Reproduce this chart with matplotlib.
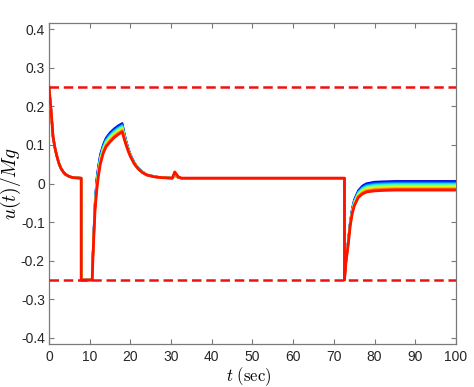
import numpy as np
import matplotlib
matplotlib.use('Agg')
import matplotlib.pyplot as plt

plt.rcParams['font.family'] = ['Liberation Sans', 'DejaVu Sans']
plt.rcParams['mathtext.fontset'] = 'cm'
plt.rcParams['axes.unicode_minus'] = False

# time grid (sec) shared by the curves
t_pts = [0, 0.5, 1.0, 1.5, 2, 2.5, 3, 3.5, 4, 5, 6, 7.9,
         7.9, 10.6,
         10.8, 11.0, 11.3, 11.7, 12.1, 12.6, 13.3, 14.0, 15.0, 16.0, 17.0, 18.0,
         18.5, 19, 19.5, 20, 21, 22, 23, 24, 26, 28, 30.3,
         30.9, 31.3, 31.8, 32.5,
         72.6, 72.6,
         73.0, 73.5, 74.0, 74.5, 75, 76, 77, 78, 80, 82, 85, 100]

# upper (blue) curve
u_blue = [0.25, 0.19, 0.12, 0.09, 0.068, 0.05, 0.038, 0.03, 0.024, 0.018, 0.015, 0.014,
          -0.25, -0.25,
          -0.18, -0.125, -0.05, 0.01, 0.043, 0.075, 0.1, 0.118, 0.132, 0.142, 0.15, 0.156,
          0.13, 0.108, 0.09, 0.075, 0.053, 0.039, 0.03, 0.023, 0.018, 0.015, 0.014,
          0.022, 0.018, 0.015, 0.014,
          0.014, -0.25,
          -0.195, -0.15, -0.1, -0.065, -0.042, -0.018, -0.006, 0.0, 0.004, 0.005, 0.006, 0.006]

# lower (red) curve
u_red = [0.25, 0.19, 0.12, 0.09, 0.068, 0.05, 0.038, 0.03, 0.024, 0.018, 0.015, 0.014,
         -0.25, -0.25,
         -0.19, -0.14, -0.07, -0.02, 0.017, 0.05, 0.078, 0.095, 0.108, 0.119, 0.127, 0.134,
         0.115, 0.098, 0.083, 0.07, 0.05, 0.037, 0.028, 0.022, 0.017, 0.015, 0.014,
         0.03, 0.024, 0.017, 0.014,
         0.014, -0.25,
         -0.2, -0.16, -0.11, -0.078, -0.058, -0.036, -0.027, -0.022, -0.019, -0.018, -0.017, -0.017]

# position of each curve inside the band (0 = blue, 1 = red)
band_pos = [0.0, 0.11, 0.22, 0.33, 0.44, 0.55, 0.66, 0.77, 0.88, 1.0]

u_max = 0.25  # saturation limits

fig = plt.figure(figsize=(4.74, 3.87), dpi=100)
ax = fig.add_axes([0.1034, 0.111, 0.8586, 0.8296])

t = np.array(t_pts)
ub = np.array(u_blue)
ur = np.array(u_red)
cols = plt.cm.jet(np.linspace(0.08, 0.89, len(band_pos)))
for i, w in enumerate(band_pos):
    u = (1 - w) * ub + w * ur
    lw = 2.0 if i == len(band_pos) - 1 else 1.6
    ax.plot(t, u, color=cols[i], lw=lw, zorder=2 + i)

ax.plot([0, 100], [u_max, u_max], color='#ee1111', lw=1.8, dashes=(3.8, 1.9), zorder=20)
ax.plot([0, 100], [-u_max, -u_max], color='#ee1111', lw=1.8, dashes=(3.8, 1.9), zorder=20)

ax.set_xlim(0, 100)
ax.set_ylim(-0.416, 0.416)
ax.set_xticks(np.arange(0, 101, 10))
ax.set_yticks(np.arange(-0.4, 0.41, 0.1))
ax.set_yticklabels(['-0.4', '-0.3', '-0.2', '-0.1', '0', '0.1', '0.2', '0.3', '0.4'])
ax.tick_params(direction='in', length=3.5, width=0.8, color='#7a7a7a',
               labelsize=10, labelcolor='#262626', top=True, right=True)
ax.tick_params(axis='y', pad=3)
ax.tick_params(axis='x', pad=4)
for s in ax.spines.values():
    s.set_color('#7a7a7a')
    s.set_linewidth(0.9)

ax.set_xlabel(r'$t\ \mathrm{(sec)}$', fontsize=12)
ax.xaxis.set_label_coords(0.49, -0.066)
ax.set_ylabel(r'$u(t)/Mg$', fontsize=14)
ax.yaxis.set_label_coords(-0.064, 0.5)

fig.savefig('out.png', dpi=100)
